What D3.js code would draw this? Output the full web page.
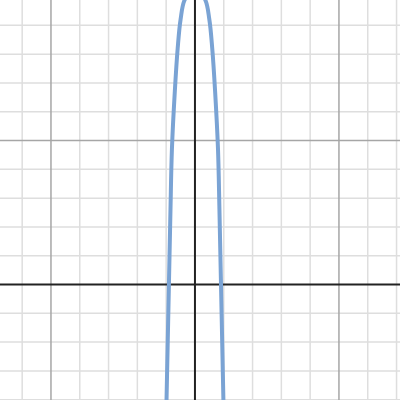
<!DOCTYPE html>
<html>
<head>
<meta charset="utf-8">
<script src="https://cdn.jsdelivr.net/npm/d3@7"></script>
<style>
  html, body { margin: 0; padding: 0; background: #fff; }
  svg { display: block; }
</style>
</head>
<body>
<svg id="chart"></svg>
<script>
// curve points (x, y in graph units)
const curveX = [-1.0, -0.95, -0.9, -0.85, -0.8, -0.7, -0.6, -0.5, -0.35, 0, 0.35, 0.5, 0.6, 0.7, 0.8, 0.85, 0.9, 0.95, 1.0];
const curveY = [-4.6, -2.2, 0.2, 2.6, 4.7, 6.7, 8.2, 9.2, 9.9, 10.3, 9.9, 9.2, 8.2, 6.7, 4.7, 2.6, 0.2, -2.2, -4.6];

// visible window of the graph
const xDomain = [-6.77, 7.12];
const yDomain = [-4.01, 9.88];
const majorStep = 5;

const width = 400, height = 400;

const svg = d3.select("#chart")
  .attr("width", width)
  .attr("height", height);

const xScale = d3.scaleLinear().domain(xDomain).range([0, width]);
const yScale = d3.scaleLinear().domain(yDomain).range([height, 0]);

const gridX = d3.range(Math.ceil(xDomain[0]), xDomain[1]);
const gridY = d3.range(Math.ceil(yDomain[0]), yDomain[1]);

const isMajor = v => v % majorStep === 0 && v !== 0;

// minor grid
const grid = svg.append("g");
grid.selectAll(".vminor")
  .data(gridX.filter(v => v % majorStep !== 0))
  .enter().append("line")
  .attr("x1", d => xScale(d)).attr("x2", d => xScale(d))
  .attr("y1", 0).attr("y2", height)
  .attr("stroke", "#dedede").attr("stroke-width", 1.5);

grid.selectAll(".hminor")
  .data(gridY.filter(v => v % majorStep !== 0))
  .enter().append("line")
  .attr("y1", d => yScale(d)).attr("y2", d => yScale(d))
  .attr("x1", 0).attr("x2", width)
  .attr("stroke", "#dedede").attr("stroke-width", 1.5);

// major grid
grid.selectAll(".vmajor")
  .data(gridX.filter(isMajor))
  .enter().append("line")
  .attr("x1", d => xScale(d)).attr("x2", d => xScale(d))
  .attr("y1", 0).attr("y2", height)
  .attr("stroke", "#a6a6a6").attr("stroke-width", 1.5);

grid.selectAll(".hmajor")
  .data(gridY.filter(isMajor))
  .enter().append("line")
  .attr("y1", d => yScale(d)).attr("y2", d => yScale(d))
  .attr("x1", 0).attr("x2", width)
  .attr("stroke", "#a6a6a6").attr("stroke-width", 1.5);

// axes
svg.append("line")
  .attr("x1", 0).attr("x2", width)
  .attr("y1", yScale(0)).attr("y2", yScale(0))
  .attr("stroke", "#222").attr("stroke-width", 2);

svg.append("line")
  .attr("x1", xScale(0)).attr("x2", xScale(0))
  .attr("y1", 0).attr("y2", height)
  .attr("stroke", "#222").attr("stroke-width", 2);

// the curve
const points = curveX.map((x, i) => ({ x, y: curveY[i] }));

const line = d3.line()
  .x(d => xScale(d.x))
  .y(d => yScale(d.y))
  .curve(d3.curveCatmullRom.alpha(0.5));

svg.append("path")
  .datum(points)
  .attr("fill", "none")
  .attr("stroke", "#7aa3d4")
  .attr("stroke-width", 4)
  .attr("stroke-linecap", "round")
  .attr("d", line);
</script>
</body>
</html>
